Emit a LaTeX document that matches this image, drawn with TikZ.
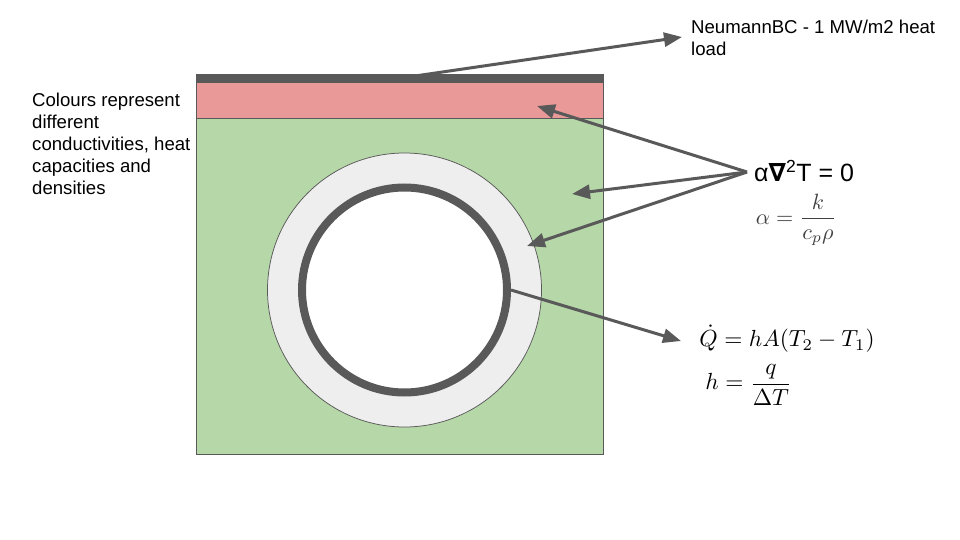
\documentclass[tikz,border=0pt]{standalone}
\usepackage{fontspec}
\usepackage{amsmath}
\setmainfont{Liberation Sans}
\newfontfamily\symfont{DejaVu Sans}
\definecolor{redlayer}{HTML}{EA9999}
\definecolor{greenblock}{HTML}{B6D7A8}
\definecolor{greyring}{HTML}{EEEEEE}
\definecolor{darkline}{HTML}{595959}
\usetikzlibrary{arrows.meta}
\tikzset{
  callout/.style={draw=darkline, line width=3pt, -{Triangle[length=18pt,width=14pt]}},
  labeltext/.style={anchor=north west, align=left, inner sep=0pt, font=\fontsize{18.6}{22}\selectfont},
  mathtext/.style={inner sep=0pt, text=black, scale=2.33}
}
\begin{document}
\begin{tikzpicture}[x=1pt,y=-1pt]
  \useasboundingbox (0,0) rectangle (960,540);
  \node[draw=darkline, fill=greenblock, line width=.75pt, minimum width=407pt, minimum height=337pt, inner sep=0pt] (block) at (400,286) {};
  \node[draw=darkline, fill=redlayer, line width=.75pt, minimum width=407pt, minimum height=36pt, inner sep=0pt] (layer) at (400,100) {};
  \node[draw=darkline, fill=darkline, minimum width=407pt, minimum height=7pt, inner sep=0pt] (topbar) at (400,78) {};
  \node[circle, draw=darkline, fill=greyring, line width=.75pt, minimum size=274pt, inner sep=0pt] (ring) at (404.5,290) {};
  \node[circle, draw=darkline, fill=white, line width=8pt, minimum size=205pt, inner sep=0pt] (tube) at (404.5,290) {};

  \node[labeltext] (neumann) at (691,20) {NeumannBC - 1 MW/m2 heat\\load};
  \node[labeltext] (colours) at (32,93) {Colours represent\\different\\conductivities, heat\\capacities and\\densities};
  \node[anchor=west, inner sep=0pt, font=\fontsize{25}{30}\selectfont] (heateq) at (754,171) {α{\symfont\bfseries ∇}\textsuperscript{2}T = 0};
  \node[mathtext, scale=.95, opacity=.75] (alpha) at (796,220) {$\alpha = \dfrac{k}{c_p\rho}$};
  \node[mathtext, anchor=west] (flux) at (699,339) {$\dot{Q} = hA(T_2 - T_1)$};
  \node[mathtext, anchor=west] (film) at (705,385) {$h = \dfrac{q}{\Delta T}$};

  \coordinate (bartail) at (415,76);
  \coordinate (neumannend) at (682,37);
  \coordinate (redend) at (537,106);
  \coordinate (greenend) at (572,194);
  \coordinate (greyend) at (527,246);
  \coordinate (fan) at (747,172);
  \coordinate (tubetail) at (511,290);
  \coordinate (fluxend) at (681,341);

  \draw[callout] (bartail) -- (neumannend);
  \draw[callout] (fan) -- (redend);
  \draw[callout] (fan) -- (greenend);
  \draw[callout] (fan) -- (greyend);
  \draw[callout] (tubetail) -- (fluxend);
\end{tikzpicture}
\end{document}
